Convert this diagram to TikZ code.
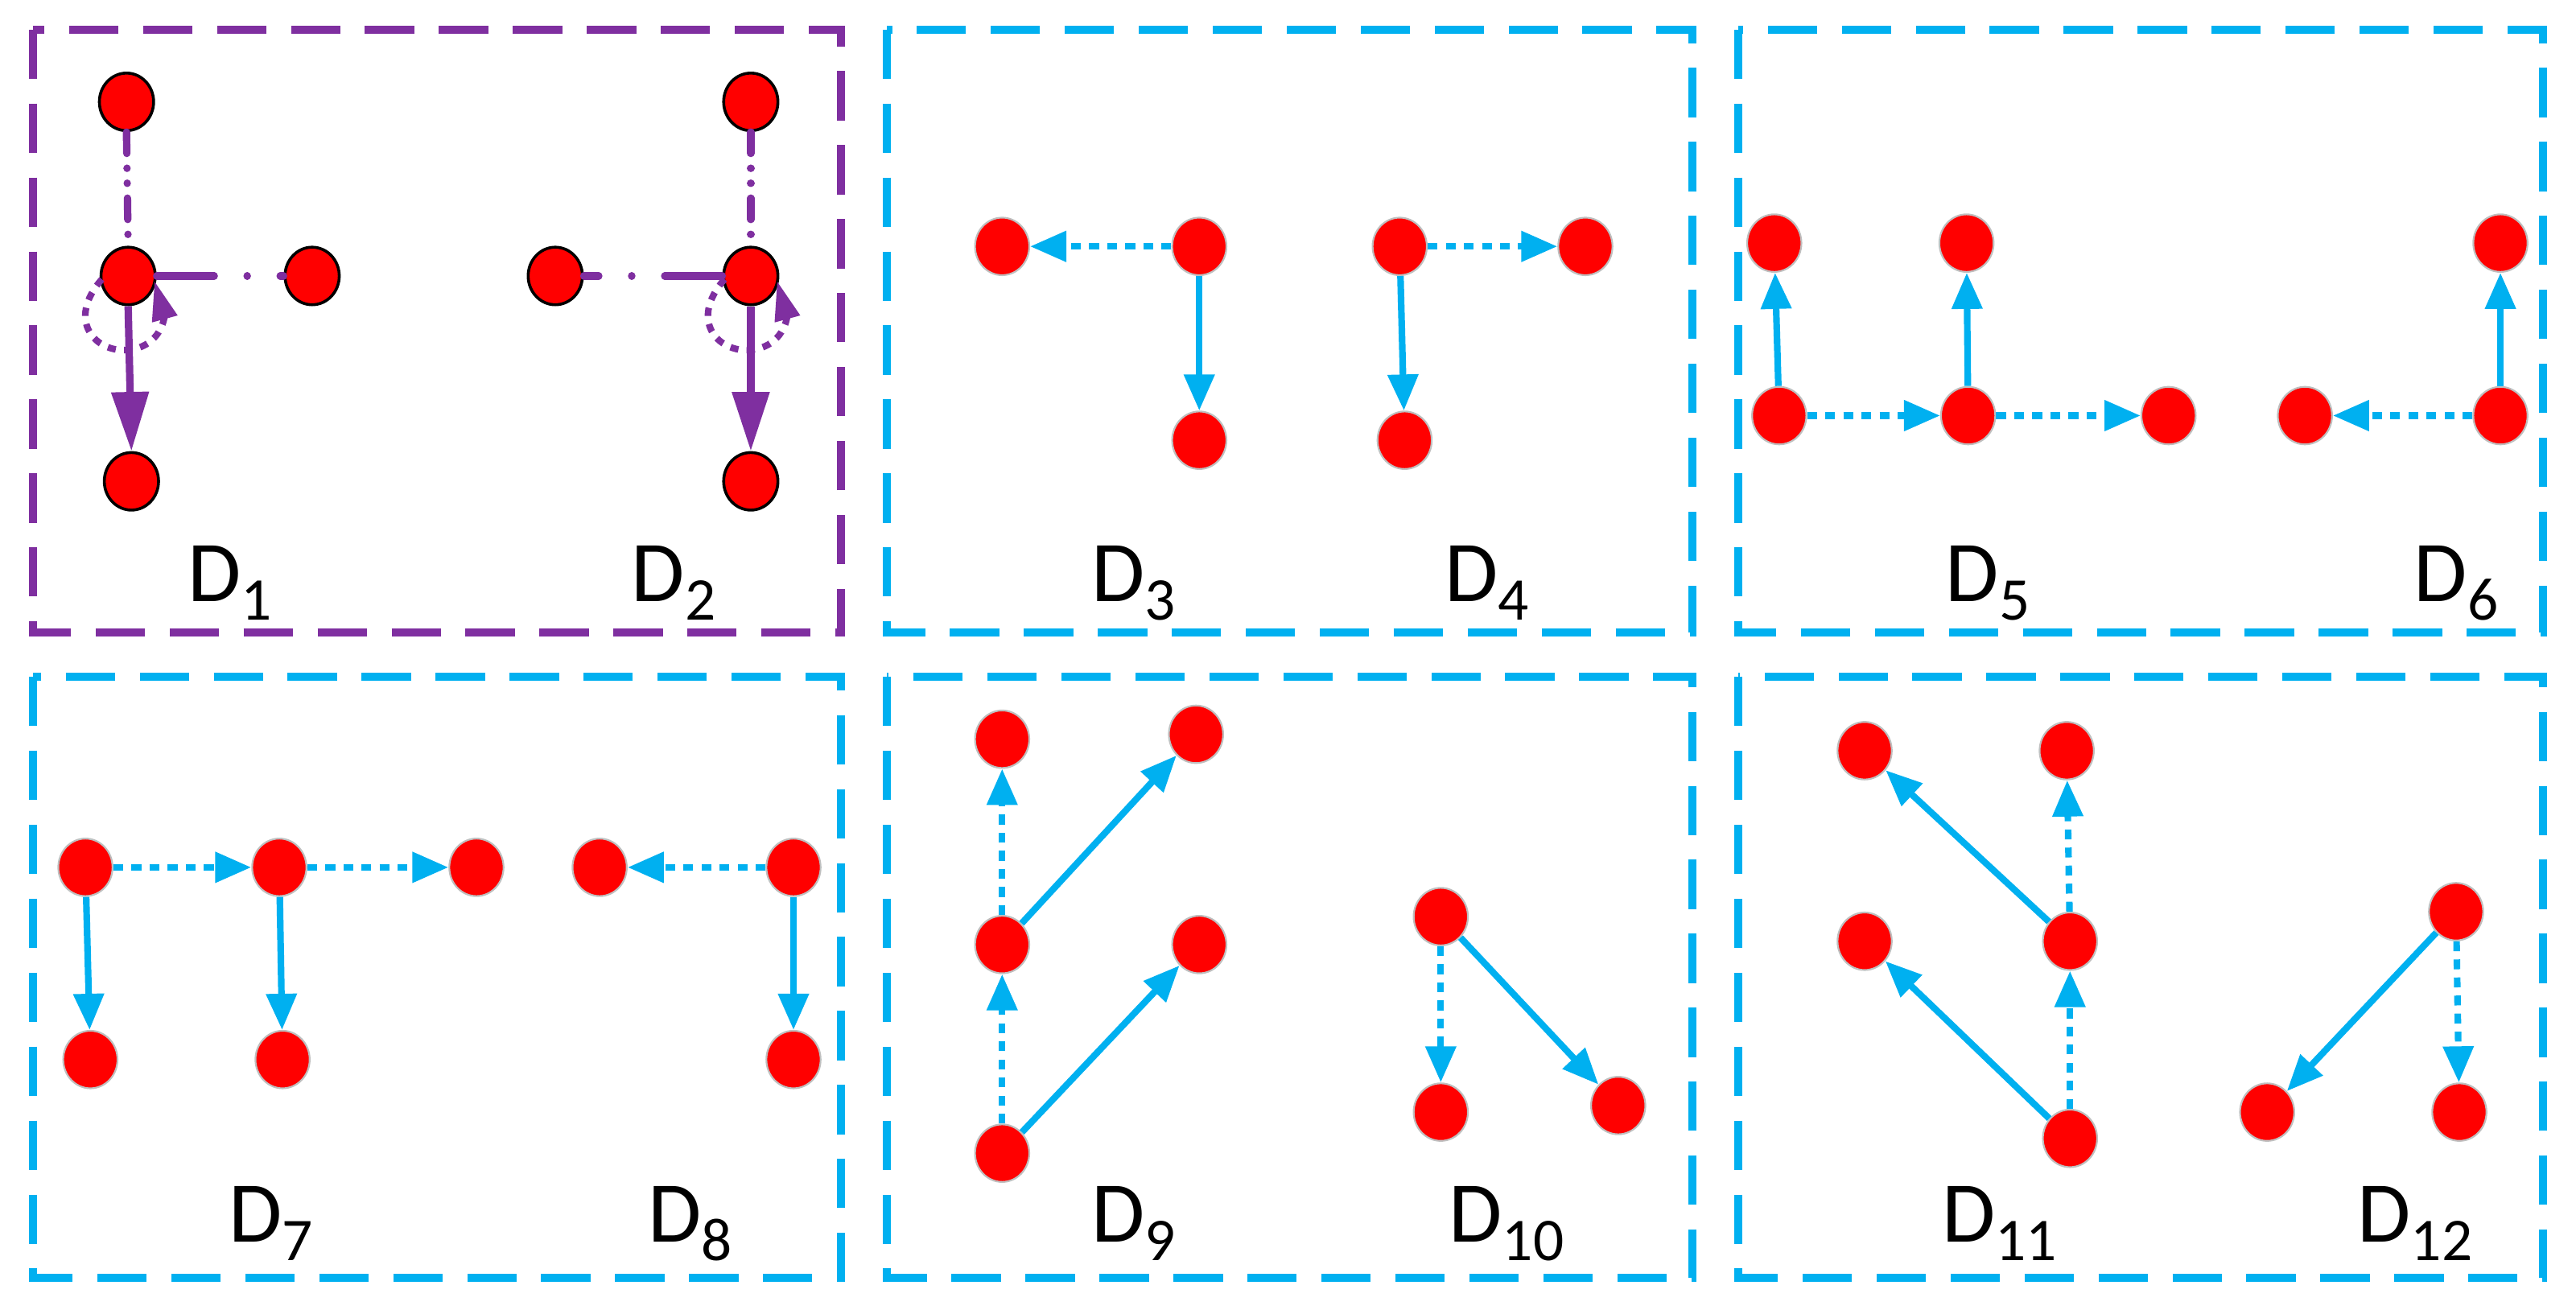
\documentclass[tikz,border=0pt]{standalone}
\usepackage{fontspec}
\setmainfont{Carlito}
\usetikzlibrary{arrows.meta,shapes.geometric}
\definecolor{pblue}{HTML}{00B0F0}
\definecolor{ppur}{HTML}{7F2FA0}
\tikzset{
 dot/.style={ellipse,minimum width=0.33cm,minimum height=0.35cm,inner sep=0pt,fill=red,draw=gray!50,line width=0.3pt},
 bdot/.style={dot,draw=black,line width=0.5pt},
 boxb/.style={draw=pblue,line width=0.05cm,dash pattern=on 0.3cm off 0.15cm},
 boxp/.style={draw=ppur,line width=0.05cm,dash pattern=on 0.3cm off 0.15cm},
 sarr/.style={draw=pblue,line width=0.04cm,-{Triangle[length=0.22cm,width=0.18cm]}},
 darr/.style={sarr,dash pattern=on 0.06cm off 0.05cm},
 parr/.style={draw=ppur,line width=0.045cm,-{Triangle[length=0.36cm,width=0.22cm]}},
 pdd/.style={draw=ppur,line width=0.045cm,line cap=round},
 ploop/.style={draw=ppur,line width=0.04cm,dash pattern=on 0.05cm off 0.05cm,-{Triangle[length=0.24cm,width=0.15cm]}},
 lab/.style={font=\fontsize{15}{15}\selectfont,inner sep=0pt}
}
\newcommand{\lbl}[1]{D\raisebox{-0.45ex}{\fontsize{10.5}{10.5}\selectfont #1}}
\begin{document}
\begin{tikzpicture}[x=0.01cm,y=-0.01cm]
\useasboundingbox (0,0) rectangle (1568,797);
% boxes
\draw[boxp] (20,18) rectangle (512,385);
\draw[boxb] (540,18) rectangle (1030,385);
\draw[boxb] (1058,18) rectangle (1548,385);
\draw[boxb] (20,412) rectangle (512,778);
\draw[boxb] (540,412) rectangle (1030,778);
\draw[boxb] (1058,412) rectangle (1548,778);
% panel 1
\node[bdot] (a1) at (77,62) {};
\node[bdot] (b1) at (78,168) {};
\node[bdot] (c1) at (190,168) {};
\node[bdot] (d1) at (80,293) {};
\node[bdot] (a2) at (457,62) {};
\node[bdot] (b2) at (457,168) {};
\node[bdot] (c2) at (338,168) {};
\node[bdot] (d2) at (457,293) {};
\draw[pdd,dash pattern=on 0.13cm off 0.09cm on 0.001cm off 0.09cm on 0.001cm off 0.09cm] (a1.south) -- (b1.north);
\draw[pdd,dash pattern=on 0.13cm off 0.09cm on 0.001cm off 0.09cm on 0.001cm off 0.09cm] (a2.south) -- (b2.north);
\draw[pdd,dash pattern=on 0.35cm off 0.2cm on 0.001cm off 0.2cm] (b1.east) -- (c1.west);
\draw[pdd,dash pattern=on 0.35cm off 0.2cm on 0.001cm off 0.2cm] (b2.west) -- (c2.east);
\draw[parr] (b1.south) -- (d1.north);
\draw[parr] (b2.south) -- (d2.north);
\draw[ploop] ([shift={(-16,2)}]b1.center) .. controls +(-22,25) and +(-20,2) .. ([shift={(0,45)}]b1.center) .. controls +(20,-2) and +(6,22) .. ([shift={(16,3)}]b1.center);
\draw[ploop] ([shift={(-16,2)}]b2.center) .. controls +(-22,25) and +(-20,2) .. ([shift={(0,45)}]b2.center) .. controls +(20,-2) and +(6,22) .. ([shift={(16,3)}]b2.center);
\node[lab] (l1) at (140,355) {\lbl{1}};
\node[lab] (l2) at (410,355) {\lbl{2}};
% panel 2
\node[dot] (p1) at (610,150) {};
\node[dot] (p2) at (730,150) {};
\node[dot] (p3) at (730,268) {};
\node[dot] (p4) at (852,150) {};
\node[dot] (p5) at (965,150) {};
\node[dot] (p6) at (855,268) {};
\draw[darr] (p2) -- (p1);
\draw[sarr] (p2) -- (p3);
\draw[darr] (p4) -- (p5);
\draw[sarr] (p4) -- (p6);
\node[lab] (l3) at (690,355) {\lbl{3}};
\node[lab] (l4) at (905,355) {\lbl{4}};
% panel 3
\node[dot] (q1) at (1080,148) {};
\node[dot] (q2) at (1197,148) {};
\node[dot] (q3) at (1083,253) {};
\node[dot] (q4) at (1198,253) {};
\node[dot] (q5) at (1320,253) {};
\node[dot] (q6) at (1403,253) {};
\node[dot] (q7) at (1522,253) {};
\node[dot] (q8) at (1522,148) {};
\draw[sarr] (q3) -- (q1);
\draw[sarr] (q4) -- (q2);
\draw[darr] (q3) -- (q4);
\draw[darr] (q4) -- (q5);
\draw[darr] (q7) -- (q6);
\draw[sarr] (q7) -- (q8);
\node[lab] (l5) at (1210,355) {\lbl{5}};
\node[lab] (l6) at (1495,355) {\lbl{6}};
% panel 4
\node[dot] (r1) at (52,528) {};
\node[dot] (r2) at (170,528) {};
\node[dot] (r3) at (290,528) {};
\node[dot] (r4) at (365,528) {};
\node[dot] (r5) at (483,528) {};
\node[dot] (r6) at (55,645) {};
\node[dot] (r7) at (172,645) {};
\node[dot] (r8) at (483,645) {};
\draw[darr] (r1) -- (r2);
\draw[darr] (r2) -- (r3);
\draw[darr] (r5) -- (r4);
\draw[sarr] (r1) -- (r6);
\draw[sarr] (r2) -- (r7);
\draw[sarr] (r5) -- (r8);
\node[lab] (l7) at (165,745) {\lbl{7}};
\node[lab] (l8) at (420,745) {\lbl{8}};
% panel 5
\node[dot] (s1) at (610,450) {};
\node[dot] (s2) at (728,447) {};
\node[dot] (s3) at (610,575) {};
\node[dot] (s4) at (730,575) {};
\node[dot] (s5) at (610,702) {};
\node[dot] (s6) at (877,558) {};
\node[dot] (s7) at (877,677) {};
\node[dot] (s8) at (985,673) {};
\draw[darr] (s3) -- (s1);
\draw[darr] (s5) -- (s3);
\draw[sarr] (s3) -- (s2);
\draw[sarr] (s5) -- (s4);
\draw[darr] (s6) -- (s7);
\draw[sarr] (s6) -- (s8);
\node[lab] (l9) at (690,745) {\lbl{9}};
\node[lab] (l10) at (917,745) {\lbl{10}};
% panel 6
\node[dot] (t1) at (1135,457) {};
\node[dot] (t2) at (1258,457) {};
\node[dot] (t3) at (1135,573) {};
\node[dot] (t4) at (1260,573) {};
\node[dot] (t5) at (1260,693) {};
\node[dot] (t6) at (1495,555) {};
\node[dot] (t7) at (1380,677) {};
\node[dot] (t8) at (1497,677) {};
\draw[sarr] (t4) -- (t1);
\draw[darr] (t4) -- (t2);
\draw[sarr] (t5) -- (t3);
\draw[darr] (t5) -- (t4);
\draw[sarr] (t6) -- (t7);
\draw[darr] (t6) -- (t8);
\node[lab] (l11) at (1217,745) {\lbl{11}};
\node[lab] (l12) at (1470,745) {\lbl{12}};
\end{tikzpicture}
\end{document}
